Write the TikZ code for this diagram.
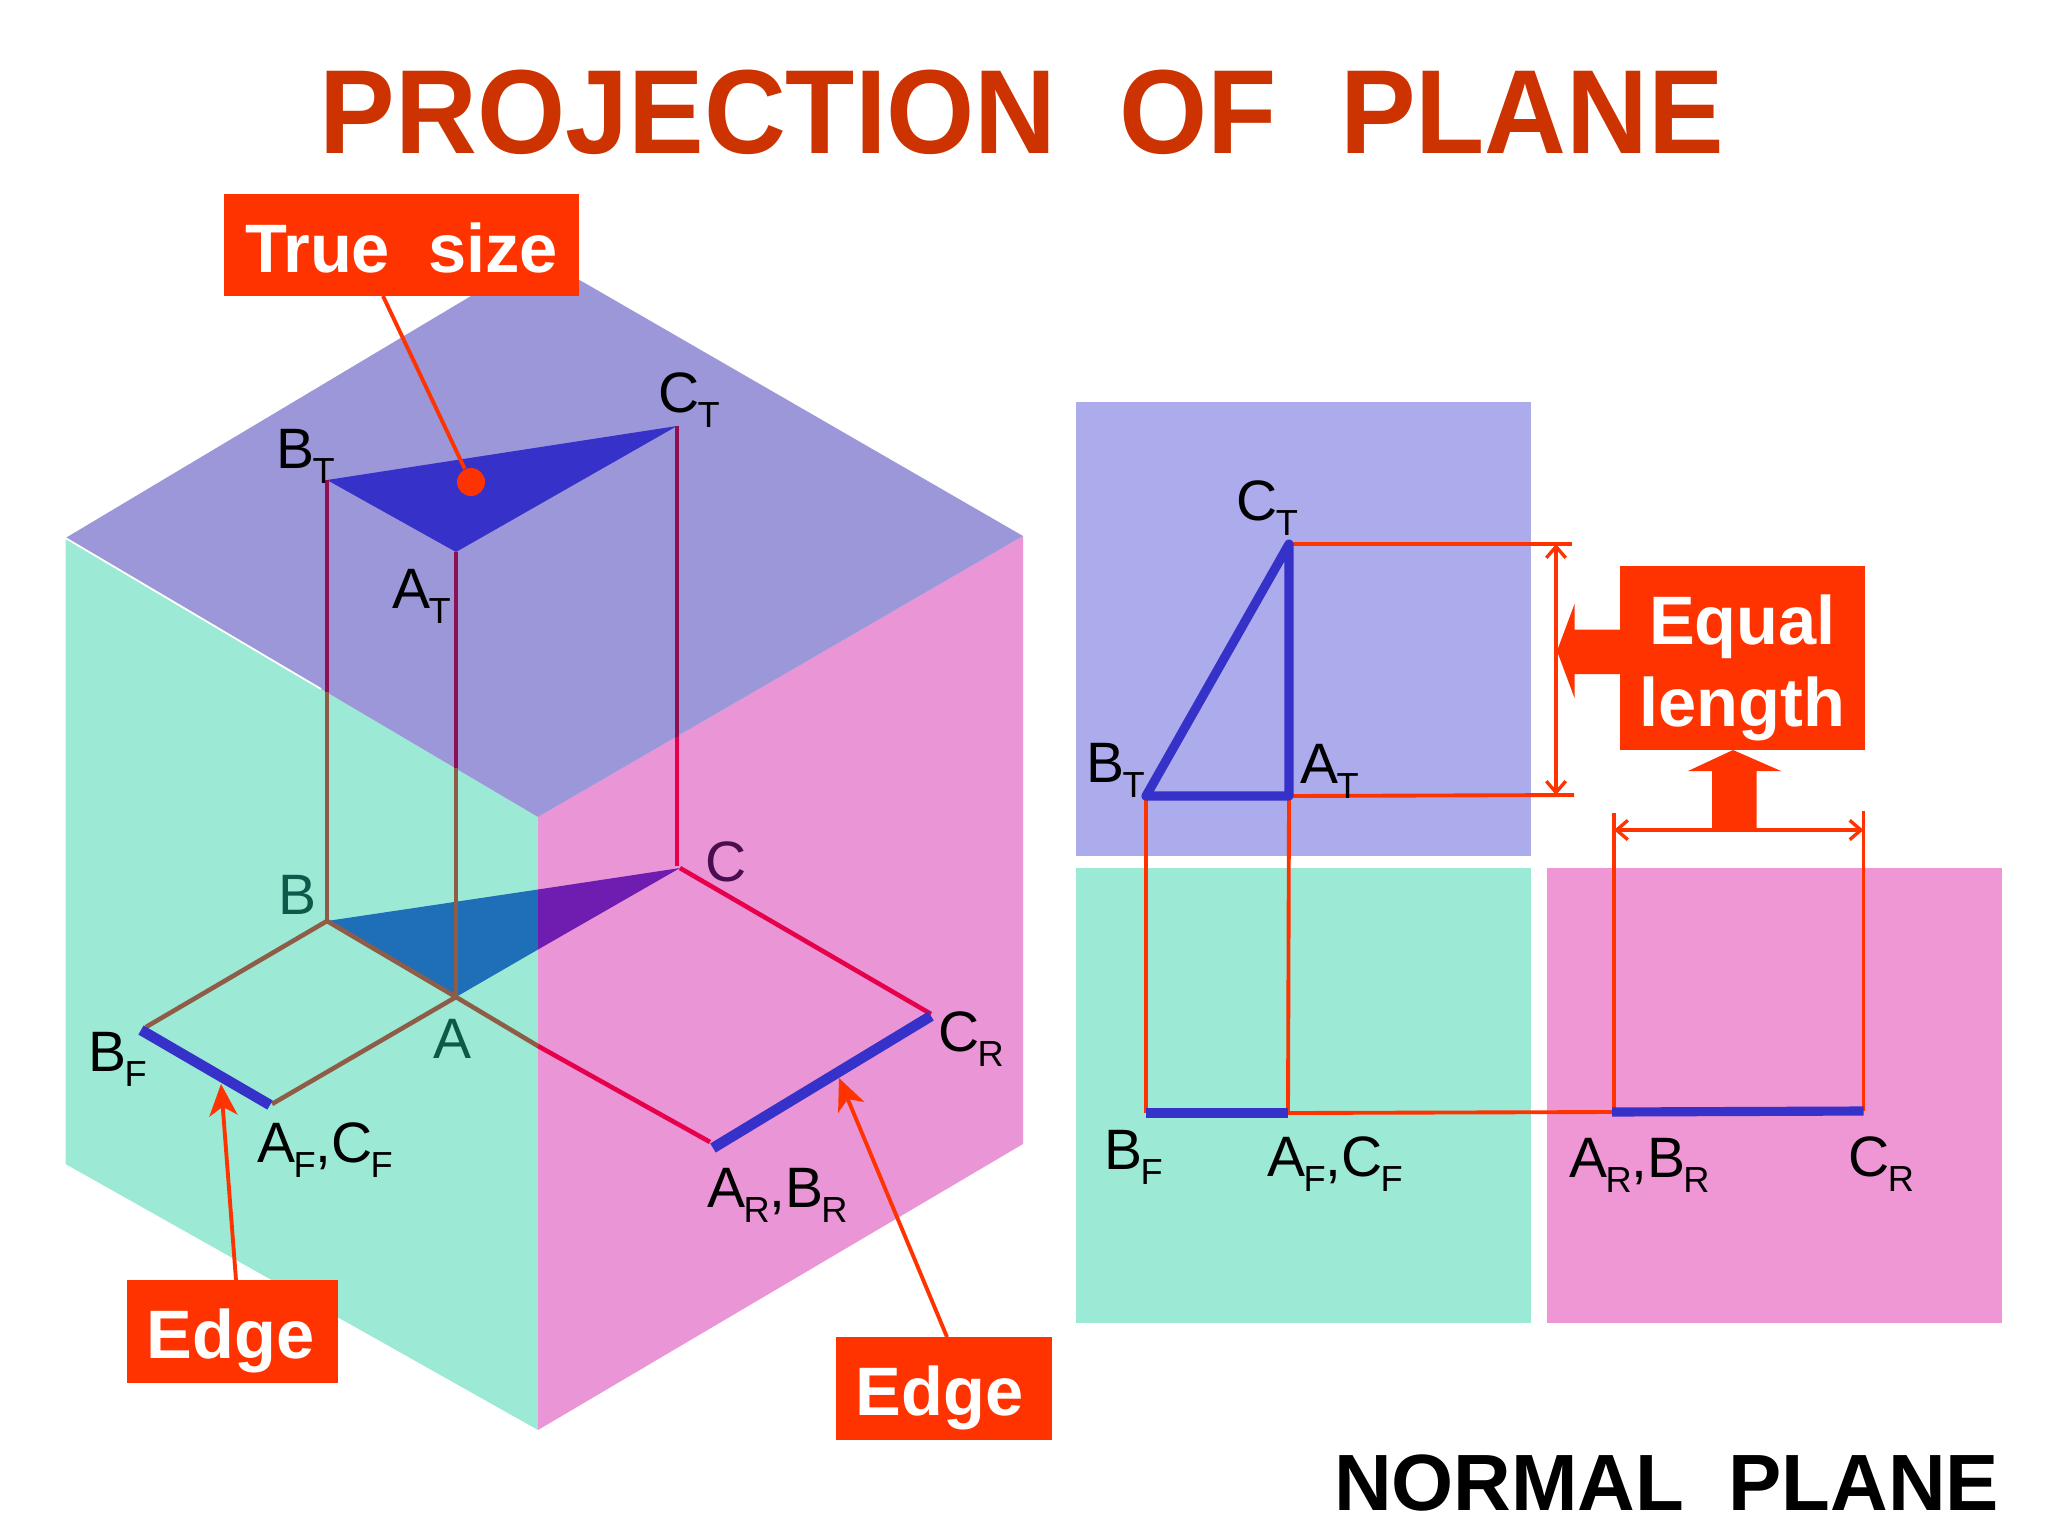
\documentclass[tikz,border=0pt]{standalone}
\usepackage{fontspec}
\usepackage{graphicx}
\setmainfont{Liberation Sans}
\usetikzlibrary{arrows.meta}
\definecolor{faceT}{HTML}{9C97D8}
\definecolor{faceF}{HTML}{9CEAD6}
\definecolor{faceR}{HTML}{E995D6}
\definecolor{panelT}{HTML}{ACABEB}
\definecolor{panelF}{HTML}{9CEAD6}
\definecolor{panelR}{HTML}{EE97D4}
\definecolor{planeblue}{HTML}{3531C9}
\definecolor{redbox}{HTML}{FF3300}
\definecolor{titlered}{HTML}{CC3300}
\definecolor{lineT}{HTML}{8F0F55}
\definecolor{lineF}{HTML}{8F5C48}
\definecolor{lineR}{HTML}{E6004C}
\definecolor{triF}{HTML}{1F6FB8}
\definecolor{triR}{HTML}{6E1DB0}
\definecolor{darkteal}{HTML}{0B5A4A}
\definecolor{darkplum}{HTML}{4A0D50}
\newcommand{\lbl}[2]{#1\kern-0.6pt\raisebox{-4.5pt}{\fontsize{10.3}{11}\selectfont #2}}
\tikzset{
  x=0.01cm,y=-0.01cm,
  lab/.style={anchor=base west,inner sep=0pt,font=\fontsize{16.2}{16.2}\selectfont},
  redbx/.style={fill=redbox,inner sep=0pt,text=white,font=\fontsize{19.5}{23.3}\selectfont\bfseries,align=center},
  proj/.style={line width=1.3pt},
  redthin/.style={draw=redbox,line width=1.1pt},
  bluethick/.style={draw=planeblue,line width=2.6pt},
  bluebar/.style={draw=planeblue,line width=3pt},
  dim/.style={redthin,line width=0.95pt,{Straight Barb[length=3.2pt,width=5.5pt]}-{Straight Barb[length=3.2pt,width=5.5pt]}},
  pointer/.style={draw=redbox,line width=1.1pt,-{Stealth[length=9pt,width=8pt,inset=2.5pt]}},
}
\begin{document}
\begin{tikzpicture}
\path[use as bounding box,fill=white] (0,0) rectangle (2048,1536);

% isometric cube faces
\fill[faceF] (65.5,538) -- (538,817) -- (538,1430) -- (65.5,1164) -- cycle;
\fill[faceR] (1023,536) -- (538,817) -- (538,1430) -- (1023,1144) -- cycle;
\fill[faceT] (65.5,538) -- (538,256) -- (1023,536) -- (538,817) -- cycle;
\draw[white,line width=0.5pt] (65.5,538) -- (321,689);

% points on the cube
\coordinate (BT) at (327,480);
\coordinate (CT) at (677,426);
\coordinate (AT) at (456,552);
\coordinate (B) at (327,921);
\coordinate (C) at (680,868);
\coordinate (Cv) at (677,866);
\coordinate (A) at (456,997);
\coordinate (Bx) at (327,692);
\coordinate (Ax) at (456,768);
\coordinate (Cx) at (677,737);
\coordinate (Arx) at (538,1046);
\coordinate (BF) at (141,1030);
\coordinate (AF) at (270,1105);
\coordinate (BFe) at (146,1027);
\coordinate (AFe) at (272,1104);
\coordinate (ARe) at (710,1142);
\coordinate (CRe) at (931,1014);
\coordinate (AR) at (713,1148);
\coordinate (CR) at (931,1016);

% horizontal plane traces
\fill[triF] (B) -- (538,889.5) -- (538,949.5) -- (A) -- cycle;
\fill[triR] (538,889.5) -- (C) -- (538,949.5) -- cycle;
\fill[planeblue] (BT) -- (CT) -- (AT) -- cycle;

\draw[lineT,proj] (BT) -- (Bx);
\draw[lineT,proj] (AT) -- (Ax);
\draw[lineT,proj] (CT) -- (Cx);
\draw[lineF,proj] (Bx) -- (B);
\draw[lineF,proj] (Ax) -- (A);
\draw[lineR,proj] (Cx) -- (Cv);
\draw[lineF,proj] (B) -- (BFe);
\draw[lineF,proj] (A) -- (AFe);
\draw[lineF,proj] (B) -- (A) -- (Arx);
\draw[lineR,proj] (Arx) -- (ARe);
\draw[lineR,proj] (C) -- (CRe);
\draw[bluebar] (BF) -- (AF);
\draw[bluebar] (AR) -- (CR);

% labels on the cube
\node[lab] (lBT) at (276,468) {\lbl{B}{T}};
\node[lab] (lCT) at (658,412) {\lbl{C}{T}};
\node[lab] (lAT) at (392,608) {\lbl{A}{T}};
\node[lab,text=darkteal] (lB) at (278,914) {B};
\node[lab,text=darkplum] (lC) at (705,881) {C};
\node[lab,text=darkteal] (lA) at (433,1058) {A};
\node[lab] (lBF) at (88,1071) {\lbl{B}{F}};
\node[lab] (lAFCF) at (257,1162) {\lbl{A}{F},\lbl{C}{F}};
\node[lab] (lARBR) at (707,1207) {\lbl{A}{R},\lbl{B}{R}};
\node[lab] (lCR) at (938,1051) {\lbl{C}{R}};

% callouts on the cube
\node[redbx,anchor=base,minimum width=355*0.01cm,text height=78*0.01cm,text depth=24*0.01cm] (trueBox) at (401.5,272) {True\ \ size};
\node[redbx,anchor=base,minimum width=211*0.01cm,text height=78*0.01cm,text depth=25*0.01cm] (edgeL) at (232.5,1358) {Edge\hspace{1.1pt}};
\node[redbx,anchor=base,minimum width=216*0.01cm,text height=78*0.01cm,text depth=25*0.01cm] (edgeR) at (944,1415) {Edge\hspace{2.6pt}};
\coordinate (trueFoot) at (383,296);
\coordinate (edgeLTop) at (236,1280);
\coordinate (edgeRTop) at (947,1337);
\coordinate (edgeLTip) at (221,1084);
\coordinate (edgeRTip) at (839,1078);
\node[circle,fill=redbox,minimum size=28*0.01cm,inner sep=0pt] (dot) at (471,482) {};
\draw[redthin,line width=1.1pt] (trueFoot) -- (dot);
\draw[pointer] (edgeLTop) -- (edgeLTip);
\draw[pointer] (edgeRTop) -- (edgeRTip);

% orthographic panels
\fill[panelT] (1076,402) rectangle (1530.5,856);
\fill[panelF] (1076,868) rectangle (1530.5,1323);
\fill[panelR] (1547,868) rectangle (2001.5,1323);

\coordinate (pCT) at (1289,544);
\coordinate (pBT) at (1146,796);
\coordinate (pAT) at (1289,796);
\coordinate (pBF) at (1146,1113);
\coordinate (pAF) at (1288,1113);
\coordinate (pAR) at (1612,1112);
\coordinate (pCR) at (1863.5,1111);
\coordinate (extTop) at (1572,544);
\coordinate (extBot) at (1574,795);
\coordinate (dimTop) at (1556,544);
\coordinate (dimBot) at (1556,795);
\coordinate (extA) at (1614,813);
\coordinate (extC) at (1863.5,811);
\coordinate (dimL) at (1614,830);
\coordinate (dimR) at (1863.5,830);

\draw[redthin] (pCT) -- (extTop);
\draw[redthin] (pAT) -- (extBot);
\draw[dim] (dimTop) -- (dimBot);
\draw[redthin] (pBT) -- (pBF);
\draw[redthin] (pAT) -- (pAF);
\draw[redthin] (pAF) -- (pAR);
\draw[redthin] (pAR -| extA) -- (extA);
\draw[redthin] (pCR) -- (extC);
\draw[dim] (dimL) -- (dimR);

% big arrows and the Equal length box
\fill[redbox] (1620,629.5) -- (1574.5,629.5) -- (1574.5,604) -- (1557,651) -- (1574.5,698) -- (1574.5,674) -- (1620,674) -- cycle;
\fill[redbox] (1712,830) -- (1712,771) -- (1688,771) -- (1733,750) -- (1781,771) -- (1756.5,771) -- (1756.5,830) -- cycle;
\node[redbx,minimum width=245*0.01cm,minimum height=184*0.01cm] (equalBox) at (1742.5,658) {\rule{0pt}{19.5pt}Equal\\length};

\draw[draw=planeblue,line width=2.6pt,line join=round] (pAT) -- (pCT) -- (pBT) -- cycle;
\draw[bluethick] (pBF) -- (pAF);
\draw[bluethick] (pAR) -- (pCR);

% labels on the panels
\node[lab] (rCT) at (1236,520) {\lbl{C}{T}};
\node[lab] (rBT) at (1086,782) {\lbl{B}{T}};
\node[lab] (rAT) at (1300,783) {\lbl{A}{T}};
\node[lab] (rBF) at (1104,1169) {\lbl{B}{F}};
\node[lab] (rAFCF) at (1267,1176) {\lbl{A}{F},\lbl{C}{F}};
\node[lab] (rARBR) at (1569,1177) {\lbl{A}{R},\lbl{B}{R}};
\node[lab] (rCR) at (1848,1176) {\lbl{C}{R}};

% titles
\node[anchor=base,inner sep=0pt,text=titlered,font=\fontsize{34}{34}\selectfont\bfseries] (title) at (1022,153) {\scalebox{0.948}[1]{PROJECTION\ \ OF\ \ PLANE}};
\node[anchor=base east,inner sep=0pt,text=black,font=\fontsize{22.7}{23}\selectfont\bfseries] (sub) at (2000,1510) {NORMAL\ \ PLANE};
\end{tikzpicture}
\end{document}
